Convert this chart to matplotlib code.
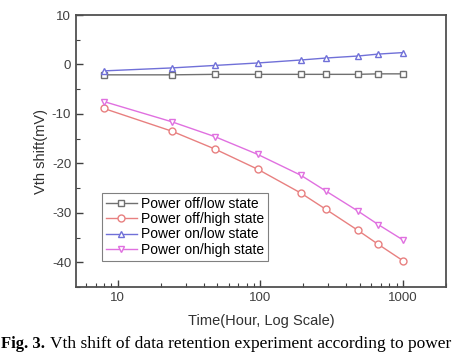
import numpy as np
import matplotlib.pyplot as plt
from matplotlib.ticker import LogLocator, NullFormatter, MultipleLocator

hours = [8, 24, 48, 96, 192, 288, 480, 672, 1000]
off_low = [-2.1, -2.1, -2.0, -2.0, -2.0, -2.0, -2.0, -1.9, -1.9]
off_high = [-8.9, -13.5, -17.1, -21.2, -26.0, -29.3, -33.5, -36.4, -39.7]
on_low = [-1.3, -0.7, -0.2, 0.3, 0.9, 1.3, 1.7, 2.1, 2.4]
on_high = [-7.5, -11.6, -14.6, -18.2, -22.4, -25.6, -29.6, -32.4, -35.5]

labels = ['Power off/low state', 'Power off/high state',
          'Power on/low state', 'Power on/high state']
series = [off_low, off_high, on_low, on_high]
colors = ['#707070', '#e88080', '#7070d8', '#e070e0']
markers = ['s', 'o', '^', 'v']

plt.rcParams['font.family'] = ['Liberation Sans', 'DejaVu Sans']
plt.rcParams['axes.unicode_minus'] = False

fig = plt.figure(figsize=(4.74, 3.57), dpi=100)
ax = fig.add_axes([76 / 474, 1 - 287 / 357, 370 / 474, 272 / 357])

for ys, c, m, lab in zip(series, colors, markers, labels):
    ax.plot(hours, ys, color=c, marker=m, markersize=5, markerfacecolor='white',
            markeredgecolor=c, markeredgewidth=1.0, linewidth=1.0, label=lab)

ax.set_xscale('log')
ax.set_xlim(5.1, 2000)
ax.set_ylim(-45, 10)
ax.yaxis.set_major_locator(MultipleLocator(10))
ax.yaxis.set_minor_locator(MultipleLocator(5))
ax.xaxis.set_minor_locator(LogLocator(base=10, subs=np.arange(2, 10)))
ax.xaxis.set_minor_formatter(NullFormatter())
ax.set_xticks([10, 100, 1000])
ax.set_xticklabels(['10', '100', '1000'])

ax.tick_params(which='both', direction='in', top=False, right=False,
               labelsize=9.5, colors='#404040')
ax.tick_params(which='major', length=5, width=1.0)
ax.tick_params(which='minor', length=3, width=0.8)
for s in ax.spines.values():
    s.set_linewidth(1.3)
    s.set_color('#505050')

ax.set_ylabel('Vth shift(mV)', fontsize=10.5, color='#303030', labelpad=3)
ax.set_xlabel('Time(Hour, Log Scale)', fontsize=10.5, color='#303030', labelpad=7)

leg = ax.legend(loc='lower left', bbox_to_anchor=(0.051, 0.07), fontsize=10,
                frameon=True, fancybox=False, edgecolor='#606060',
                handlelength=2.2, labelspacing=0.1, borderpad=0.3, handletextpad=0.3)
leg.get_frame().set_linewidth(0.8)

fig.text(0.002, 0.025, 'Fig. 3.', fontsize=12, family='Liberation Serif',
         fontweight='bold', ha='left', va='baseline')
fig.text(0.105, 0.025, 'Vth shift of data retention experiment according to power',
         fontsize=12.5, family='Liberation Serif', ha='left', va='baseline')

fig.savefig('out.png', dpi=100)
